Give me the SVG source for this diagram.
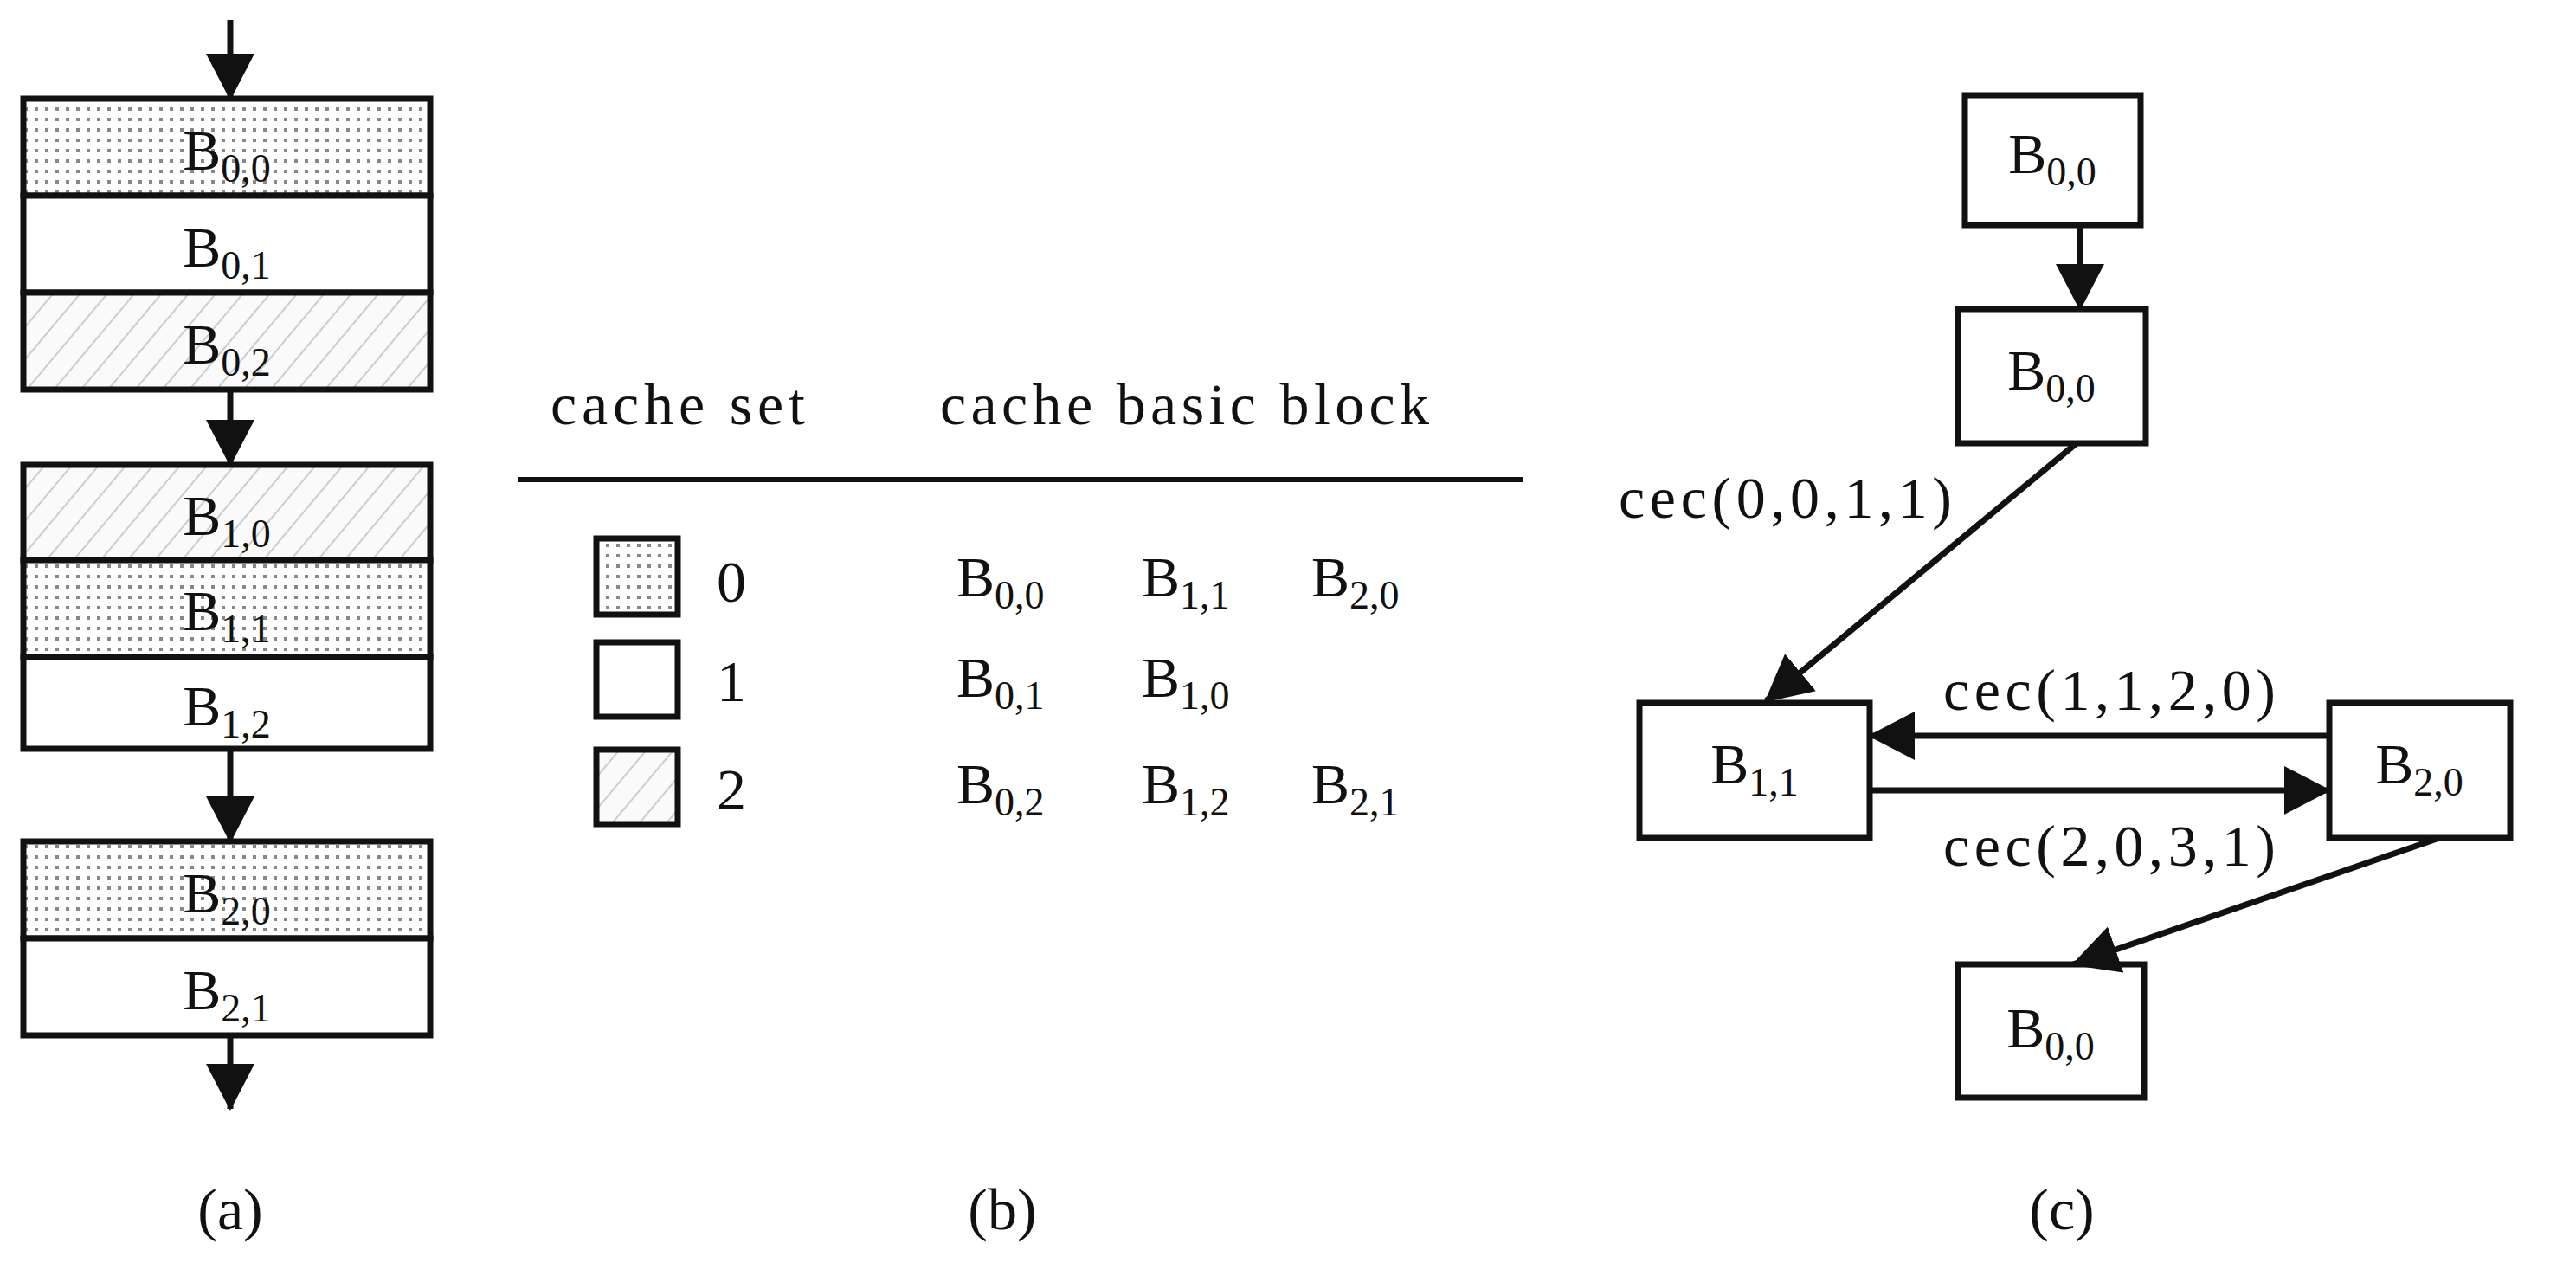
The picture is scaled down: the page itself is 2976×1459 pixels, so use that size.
<svg xmlns="http://www.w3.org/2000/svg" width="2976" height="1459" viewBox="0 0 2976 1459">
<style>
text{font-family:"Liberation Serif","Times New Roman",serif;fill:#111}
.b{font-size:66px;text-anchor:middle}
.s{font-size:46px}
.box{stroke:#111;stroke-width:7}
.ln{stroke:#111;stroke-width:7;fill:none;marker-end:url(#ah)}
.lab{font-size:68px}
</style>
<defs>
<marker id="ah" markerUnits="userSpaceOnUse" markerWidth="56" markerHeight="60" refX="52" refY="28" orient="auto"><path d="M0,0 L54,28 L0,56 z" fill="#111"/></marker>
<pattern id="dots" width="12" height="12" patternUnits="userSpaceOnUse"><rect width="12" height="12" fill="#fff"/><rect x="4" y="4" width="4" height="4" fill="#888"/></pattern>
<pattern id="hatch" width="24" height="24" patternUnits="userSpaceOnUse" patternTransform="rotate(40)"><rect width="24" height="24" fill="#fafafa"/><line x1="0" y1="0" x2="0" y2="24" stroke="#ccc" stroke-width="4"/></pattern>
</defs>
<g id="panel-a">
<rect class="box" x="27" y="114" width="470" height="112" fill="url(#dots)"/>
<rect class="box" x="27" y="226" width="470" height="112" fill="#fff"/>
<rect class="box" x="27" y="338" width="470" height="112" fill="url(#hatch)"/>
<rect class="box" x="27" y="537" width="470" height="110" fill="url(#hatch)"/>
<rect class="box" x="27" y="647" width="470" height="112" fill="url(#dots)"/>
<rect class="box" x="27" y="759" width="470" height="106" fill="#fff"/>
<rect class="box" x="27" y="972" width="470" height="112" fill="url(#dots)"/>
<rect class="box" x="27" y="1084" width="470" height="112" fill="#fff"/>
<text class="b" x="262" y="196">B<tspan class="s" dy="14">0,0</tspan></text>
<text class="b" x="262" y="308">B<tspan class="s" dy="14">0,1</tspan></text>
<text class="b" x="262" y="420">B<tspan class="s" dy="14">0,2</tspan></text>
<text class="b" x="262" y="618">B<tspan class="s" dy="14">1,0</tspan></text>
<text class="b" x="262" y="728">B<tspan class="s" dy="14">1,1</tspan></text>
<text class="b" x="262" y="838">B<tspan class="s" dy="14">1,2</tspan></text>
<text class="b" x="262" y="1054">B<tspan class="s" dy="14">2,0</tspan></text>
<text class="b" x="262" y="1166">B<tspan class="s" dy="14">2,1</tspan></text>
<text class="lab" x="266" y="1420" text-anchor="middle">(a)</text>
</g>
<g id="panel-b">
<text class="lab" x="636" y="490" textLength="294">cache set</text>
<text class="lab" x="1086" y="490" textLength="565">cache basic block</text>
<line x1="598" y1="554" x2="1759" y2="554" stroke="#111" stroke-width="6"/>
<rect class="box" x="689" y="622" width="94" height="88" fill="url(#dots)"/>
<rect class="box" x="689" y="742" width="94" height="86" fill="#fff"/>
<rect class="box" x="689" y="866" width="94" height="86" fill="url(#hatch)"/>
<text class="lab" x="828" y="695">0</text>
<text class="lab" x="828" y="810">1</text>
<text class="lab" x="828" y="935">2</text>
<g class="b" style="text-anchor:start">
<text class="b" x="1105" y="689" style="text-anchor:start">B<tspan class="s" dy="14">0,0</tspan></text>
<text class="b" x="1319" y="689" style="text-anchor:start">B<tspan class="s" dy="14">1,1</tspan></text>
<text class="b" x="1515" y="689" style="text-anchor:start">B<tspan class="s" dy="14">2,0</tspan></text>
<text class="b" x="1105" y="805" style="text-anchor:start">B<tspan class="s" dy="14">0,1</tspan></text>
<text class="b" x="1319" y="805" style="text-anchor:start">B<tspan class="s" dy="14">1,0</tspan></text>
<text class="b" x="1105" y="928" style="text-anchor:start">B<tspan class="s" dy="14">0,2</tspan></text>
<text class="b" x="1319" y="928" style="text-anchor:start">B<tspan class="s" dy="14">1,2</tspan></text>
<text class="b" x="1515" y="928" style="text-anchor:start">B<tspan class="s" dy="14">2,1</tspan></text>
</g>
<text class="lab" x="1158" y="1420" text-anchor="middle">(b)</text>
</g>
<g id="n1"><rect class="box" x="2270" y="110" width="203" height="150" fill="#fff"/><text class="b" x="2371" y="200">B<tspan class="s" dy="14">0,0</tspan></text></g>
<g id="n2"><rect class="box" x="2262" y="357" width="217" height="155" fill="#fff"/><text class="b" x="2370" y="450">B<tspan class="s" dy="14">0,0</tspan></text></g>
<g id="n3"><rect class="box" x="1894" y="812" width="266" height="156" fill="#fff"/><text class="b" x="2027" y="905">B<tspan class="s" dy="14">1,1</tspan></text></g>
<g id="n4"><rect class="box" x="2691" y="812" width="209" height="156" fill="#fff"/><text class="b" x="2795" y="905">B<tspan class="s" dy="14">2,0</tspan></text></g>
<g id="n5"><rect class="box" x="2262" y="1114" width="215" height="154" fill="#fff"/><text class="b" x="2369" y="1210">B<tspan class="s" dy="14">0,0</tspan></text></g>
<g id="connectors">
<line class="ln" x1="266" y1="23" x2="266" y2="114"/>
<line class="ln" x1="266" y1="450" x2="266" y2="537"/>
<line class="ln" x1="266" y1="865" x2="266" y2="972"/>
<line class="ln" x1="266" y1="1196" x2="266" y2="1281"/>
<line class="ln" x1="2403" y1="260" x2="2403" y2="357"/>
<line class="ln" x1="2399" y1="512" x2="2040" y2="810"/>
<line class="ln" x1="2691" y1="850" x2="2160" y2="850"/>
<line class="ln" x1="2160" y1="913" x2="2691" y2="913"/>
<line class="ln" x1="2818" y1="968" x2="2395" y2="1114"/>
</g>
<g id="labels-c">
<text class="lab" x="1870" y="598" textLength="385">cec(0,0,1,1)</text>
<text class="lab" x="2245" y="820" textLength="384">cec(1,1,2,0)</text>
<text class="lab" x="2245" y="1000" textLength="384">cec(2,0,3,1)</text>
<text class="lab" x="2382" y="1420" text-anchor="middle">(c)</text>
</g>
</svg>
